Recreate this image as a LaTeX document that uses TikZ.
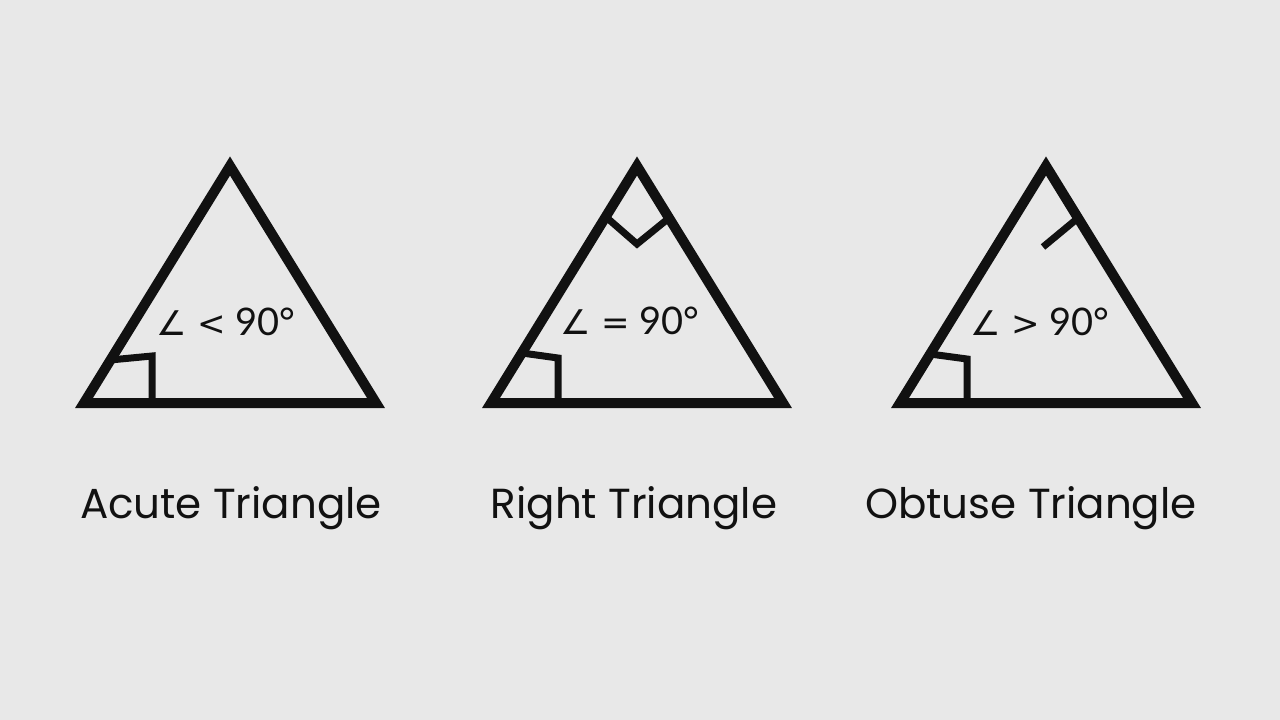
\documentclass[tikz,border=0pt]{standalone}
\usepackage{fontspec}
\setmainfont{Poppins}
\newfontfamily\symf{DejaVu Sans}
\newfontfamily\lblf{Lato}
\definecolor{bg}{HTML}{E8E8E8}
\definecolor{ink}{HTML}{111111}
\begin{document}
\begin{tikzpicture}[x=1pt,y=-1pt,
  tri/.style={draw=ink,line width=10pt,line join=miter},
  anglemark/.style={draw=ink,line width=7pt,line cap=butt,line join=miter},
  anglbl/.style={text=ink,font=\lblf\fontsize{38}{44}\selectfont,inner sep=0pt},
  namelbl/.style={text=ink,font=\fontsize{42}{50}\selectfont,inner sep=0pt,anchor=base}]
\fill[bg] (0,0) rectangle (1280,720);
\useasboundingbox (0,0) rectangle (1280,720);
% triangle 1
\coordinate (a1) at (84,403); \coordinate (b1) at (376,403); \coordinate (c1) at (230,166);
\draw[tri] (a1) -- (b1) -- (c1) -- cycle;
\coordinate (s1) at (110,360); \coordinate (q1) at (152,356); \coordinate (p1) at (152,403);
\draw[anglemark] (s1) -- (q1) -- (p1);
\node[anglbl] (l1) at (226,322) {{\symf\fontsize{34}{40}\selectfont ∠ <} 90°};
\node[namelbl] (n1) at (231,518) {Acute Triangle};
% triangle 2
\coordinate (a2) at (491,403); \coordinate (b2) at (783,403); \coordinate (c2) at (637,166);
\draw[tri] (a2) -- (b2) -- (c2) -- cycle;
\coordinate (s2) at (522,353); \coordinate (q2) at (558,358); \coordinate (p2) at (558,403);
\draw[anglemark] (s2) -- (q2) -- (p2);
\coordinate (v1) at (606,217); \coordinate (v2) at (637,244); \coordinate (v3) at (669,218);
\draw[anglemark] (v1) -- (v2) -- (v3);
\node[anglbl] (l2) at (630,321) {{\symf\fontsize{34}{40}\selectfont ∠ =} 90°};
\node[namelbl] (n2) at (634,518) {Right Triangle};
% triangle 3
\coordinate (a3) at (900,403); \coordinate (b3) at (1192,403); \coordinate (c3) at (1046,166);
\draw[tri] (a3) -- (b3) -- (c3) -- cycle;
\coordinate (s3) at (930,354); \coordinate (q3) at (967,359); \coordinate (p3) at (967,403);
\draw[anglemark] (s3) -- (q3) -- (p3);
\coordinate (o1) at (1078,218); \coordinate (o2) at (1043,247);
\draw[anglemark] (o1) -- (o2);
\node[anglbl] (l3) at (1040,322) {{\symf\fontsize{34}{40}\selectfont ∠ >} 90°};
\node[namelbl] (n3) at (1031,518) {Obtuse Triangle};
\end{tikzpicture}
\end{document}
